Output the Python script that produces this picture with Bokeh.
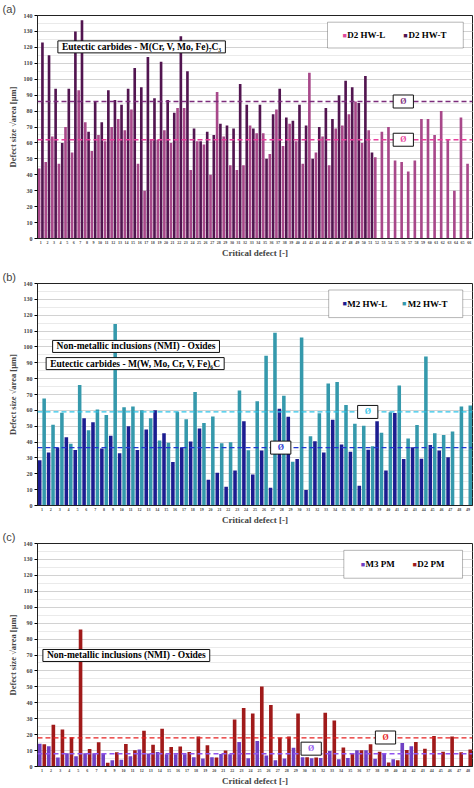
import numpy as np
from bokeh.plotting import figure
from bokeh.models import Range1d, FixedTicker, Span, Label, BoxAnnotation
from bokeh.layouts import column
from bokeh.embed import file_html
from bokeh.resources import INLINE

SERIF = "Liberation Serif"
SANS = "Liberation Sans"

# ---------------- panel (a) ----------------
a_names = ["D2 HW-L", "D2 HW-T"]
a_L = [44, 48, 64, 47, 70, 54, 93, 73, 55, 65,
       61, 70, 75, 68, 81, 47, 30, 62, 62, 68,
       60, 82, 82, 43, 61, 59, 40, 92, 64, 46,
       43, 46, 71, 66, 66, 53, 81, 58, 72, 61,
       47, 104, 54, 64, 46, 69, 71, 78, 86, 60,
       68, 51, 67, 70, 49, 48, 42, 49, 75, 75,
       65, 80, 62, 30, 76, 47]
a_T = [123, 115, 94, 60, 94, 130, 137, 67, 86, 73,
       93, 87, 84, 94, 107, 95, 114, 88, 111, 87,
       79, 127, 105, 69, 61, 67, 65, 72, 71, 69,
       97, 84, 69, 84, 50, 78, 94, 76, 74, 84,
       71, 50, 70, 82, 75, 90, 99, 95, 85, 102, 54]
a_means = [62, 86]
a_ncat = 66

# ---------------- panel (b) ----------------
b_names = ["M2 HW-L", "M2 HW-T"]
b_L = [28.5, 33.5, 36.5, 43, 35, 55, 52.5, 36, 44, 33,
       50, 35, 48, 60, 45.5, 27.4, 36.8, 40.3, 48.6, 16.2,
       20.6, 11.8, 22, 53.2, 19.5, 34.7, 11.2, 61, 56, 29.3,
       9.8, 40.5, 33.4, 54, 38.4, 33.9, 12.5, 35.1, 53.2, 22,
       58.4, 29.3, 36.8, 29.5, 38.2, 34.7, 30.5]
b_T = [67.5, 51, 58.5, 39, 76, 47.5, 60.5, 57, 114.5, 62,
       62.5, 60, 55, 41, 39.5, 59.2, 54.4, 71.5, 52.1, 56.1,
       39.3, 39.9, 72.5, 34.9, 65.8, 94.5, 109, 69.2, 27.6, 106,
       43.6, 58.2, 76.9, 77.9, 63.4, 51.5, 50.3, 37.4, 45.9, 58.8,
       75.6, 42.2, 50.7, 93.9, 45.5, 44.5, 46.7, 62.5, 63.1]
b_means = [36.5, 59]
b_ncat = 49

# ---------------- panel (c) ----------------
c_names = ["M3 PM", "D2 PM"]
c_M3 = [14.3, 12.7, 5.6, 8.3, 6.4, 8.3, 8.3, 8.1, 3.9, 4.2,
        6.4, 10.6, 8.1, 9.1, 7.7, 7.7, 7.7, 5.8, 5.0, 5.8,
        7.9, 7.7, 15.4, 5.2, 16.0, 6.9, 3.9, 5.0, 11.8, 5.8,
        5.2, 5.4, 9.8, 4.6, 5.4, 10.2, 10.2, 4.8, 7.9, 4.6,
        14.7, 12.7]
c_D2 = [13.9, 26.2, 23.3, 18.3, 86, 11, 15.2, 2.3, 8.9, 14.1,
        10.2, 22.4, 13.7, 23.7, 12.3, 12.5, 9.1, 18.9, 13.3, 5.6,
        10, 29.5, 36.8, 33.2, 50.3, 38.6, 18.1, 18.9, 33.2, 5.8,
        5.6, 33.7, 28.9, 12, 8.1, 10.2, 13.9, 9.3, 2.5, 3.9,
        10.4, 15.4, 11.2, 19.1, 9.3, 18.9, 8.9, 10.6]
c_means = [8, 18]
c_ncat = 48

y_ticks = list(range(0, 141, 10))


def base_fig(n, height, top, bottom, letter):
    p = figure(width=474, height=height, x_range=Range1d(0.5, n + 0.5),
               y_range=Range1d(0, 140), output_backend="svg",
               toolbar_location=None, min_border_left=37, min_border_right=2,
               min_border_top=top, min_border_bottom=bottom, title=letter)
    p.title.text_font = SANS
    p.title.text_font_size = "11px"
    p.title.text_font_style = "normal"
    p.title.align = "left"
    p.title.offset = -35
    p.title.standoff = 1
    p.outline_line_color = "#222222"
    p.outline_line_width = 1
    yax = p.yaxis[0]
    yax.ticker = FixedTicker(ticks=y_ticks, minor_ticks=list(range(0, 141, 5)))
    yax.axis_label = "Defect size √area [μm]"
    yax.axis_label_text_font = SERIF
    yax.axis_label_text_font_size = "8.5px"
    yax.axis_label_text_font_style = "bold"
    yax.axis_label_standoff = 3
    yax.major_label_text_font = SERIF
    yax.major_label_text_font_size = "6px"
    yax.major_label_text_font_style = "bold"
    yax.major_label_standoff = 2
    yax.major_tick_out = 3
    yax.major_tick_in = 0
    yax.minor_tick_out = 0
    yax.minor_tick_in = 0
    yax.axis_line_color = "#222222"
    xax = p.xaxis[0]
    xax.ticker = FixedTicker(ticks=list(range(1, n + 1)))
    xax.axis_label = "Critical defect [-]"
    xax.axis_label_text_font = SERIF
    xax.axis_label_text_font_size = "9px"
    xax.axis_label_text_font_style = "bold"
    xax.axis_label_standoff = 1
    xax.major_label_text_font = SERIF
    xax.major_label_text_font_size = "4px"
    xax.major_label_text_font_style = "bold"
    xax.major_label_standoff = 2
    xax.major_tick_out = 0
    xax.major_tick_in = 0
    xax.minor_tick_out = 0
    xax.axis_line_color = "#222222"
    p.ygrid.grid_line_color = "#D2D2D2"
    p.ygrid.minor_grid_line_color = "#EAEAEA"
    p.xgrid.visible = False
    return p


def bars(p, vals, offset, color):
    xs = np.arange(1, len(vals) + 1) + offset
    p.vbar(x=xs, top=vals, width=0.4, fill_color=color, line_color=None)


def mean_line(p, m, color):
    p.add_layout(Span(location=m, dimension="width", line_color=color,
                      line_dash="5 3", line_width=1.3))


def phi_box(p, x, y, color):
    p.add_layout(Label(x=x, y=y, text="Ø", text_color=color, text_font=SERIF,
                       text_font_size="8px", text_font_style="bold",
                       text_align="center", text_baseline="middle",
                       background_fill_color="white", border_line_color="#111111",
                       border_line_width=1, padding=(7, 2)))


def text_box(p, x, y, txt, size="9.5px"):
    p.add_layout(Label(x=x, y=y, text=txt, text_color="black", text_font=SERIF,
                       text_font_size=size, text_font_style="bold",
                       text_align="center", text_baseline="middle",
                       background_fill_color="white", border_line_color="#111111",
                       border_line_width=1, padding=(4, 1)))


def legend_box(p, left, right, bottom, top, items):
    p.add_layout(BoxAnnotation(left=left, right=right, bottom=bottom, top=top,
                               fill_color="white", fill_alpha=1,
                               line_color="#111111", line_width=1))
    ymid = (bottom + top) / 2
    for xs, xt, name, col in items:
        p.add_layout(Label(x=xs, y=ymid, text="■", text_color=col,
                           text_font=SANS, text_font_size="7px",
                           text_align="center", text_baseline="middle"))
        p.add_layout(Label(x=xt, y=ymid, text=name, text_color="black",
                           text_font=SERIF, text_font_size="9px",
                           text_font_style="bold", text_align="left",
                           text_baseline="middle"))


# colours
A_L, A_T = "#A8488A", "#521550"
A_LM, A_TM = "#E8409C", "#7B2C7B"
B_L, B_T = "#1C1C90", "#3599AC"
B_LM, B_TM = "#2236D0", "#2EC4E8"
C_M, C_D = "#6E40C4", "#A01A1A"
C_MM, C_DM = "#9055F0", "#E62020"

# ---- (a)
pa = base_fig(a_ncat, 260, 14, 22, "(a)")
bars(pa, a_L, -0.25, A_L)
bars(pa, a_T, 0.25, A_T)
mean_line(pa, a_means[0], A_LM)
mean_line(pa, a_means[1], A_TM)
phi_box(pa, 56, a_means[1], A_TM)
phi_box(pa, 56, a_means[0], A_LM)
text_box(pa, 16.3, 120.3, "Eutectic carbides - M(Cr, V, Mo, Fe)₇C₃")
legend_box(pa, 44.5, 65.1, 119.6, 135.8,
           [(47.1, 47.5, a_names[0], "#E0489C"), (56.3, 56.8, a_names[1], A_T)])

# ---- (b)
pb = base_fig(b_ncat, 267, 23, 19, "(b)")
bars(pb, b_L, -0.25, B_L)
bars(pb, b_T, 0.25, B_T)
mean_line(pb, b_means[0], B_LM)
mean_line(pb, b_means[1], B_TM)
phi_box(pb, 27.9, b_means[0], B_LM)
phi_box(pb, 37.7, b_means[1], B_TM)
text_box(pb, 11.6, 100.3, "Non-metallic inclusions (NMI) - Oxides")
text_box(pb, 11.5, 89.5, "Eutectic carbides - M(W, Mo, Cr, V, Fe)₆C")
legend_box(pb, 33.3, 48.4, 118.5, 135.9,
           [(35.1, 35.4, b_names[0], B_L), (41.8, 42.2, b_names[1], B_T)])

# ---- (c)
pc = base_fig(c_ncat, 261, 16, 21, "(c)")
bars(pc, c_M3, -0.25, C_M)
bars(pc, c_D2, 0.25, C_D)
mean_line(pc, c_means[1], C_DM)
mean_line(pc, c_means[0], C_MM)
phi_box(pc, 38.9, 18.2, C_DM)
phi_box(pc, 30.7, 11.2, C_MM)
text_box(pc, 10.3, 69.7, "Non-metallic inclusions (NMI) - Oxides")
legend_box(pc, 34.3, 47.4, 118.2, 135.7,
           [(36.4, 36.7, c_names[0], C_M), (42.1, 42.4, c_names[1], C_D)])

layout = column(pa, pb, pc, spacing=0)
open("out.html", "w").write(file_html(layout, INLINE))
